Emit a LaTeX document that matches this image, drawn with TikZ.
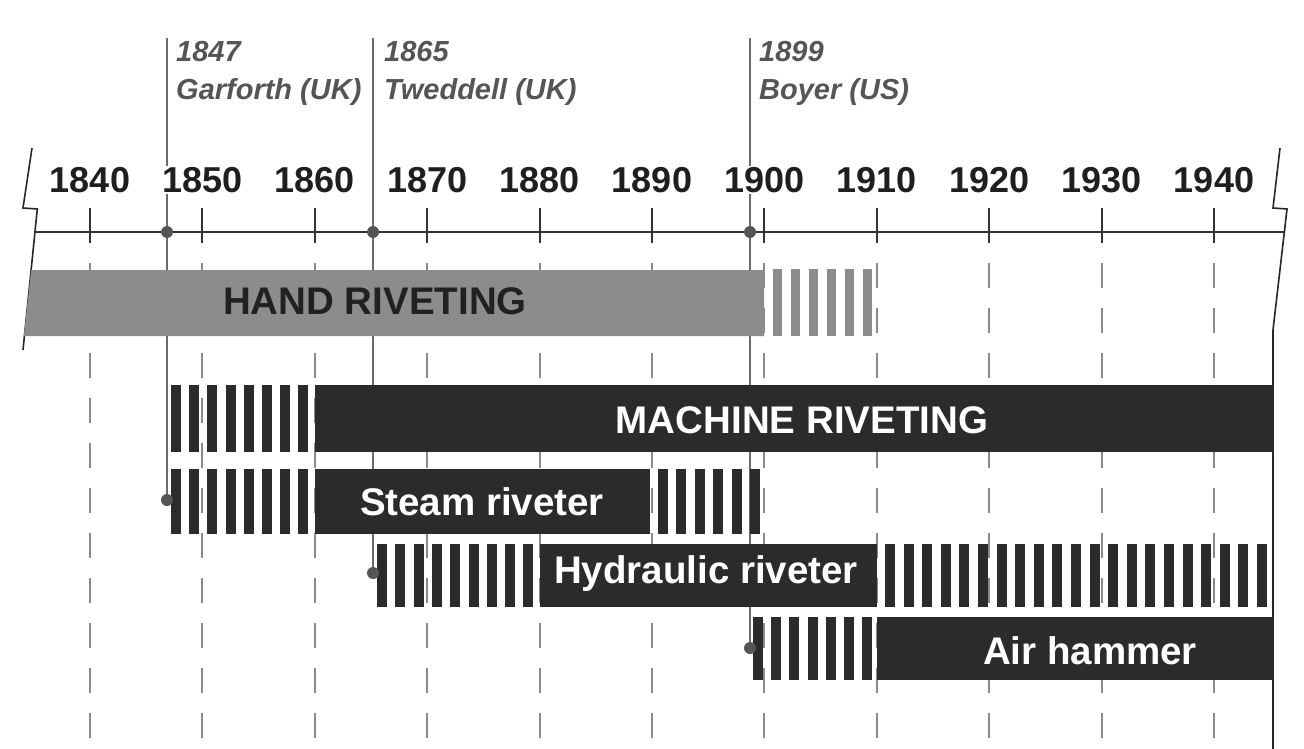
\documentclass[tikz,border=0pt]{standalone}
\usepackage{fontspec}
\setmainfont{Liberation Sans}
\definecolor{handgray}{HTML}{8C8C8C}
\definecolor{bardark}{HTML}{2B2B2B}
\definecolor{gridgray}{HTML}{8A8A8A}
\definecolor{linegray}{HTML}{6A6A6A}
\definecolor{dotgray}{HTML}{555555}
\definecolor{annotgray}{HTML}{555555}
\definecolor{axisdark}{HTML}{333333}
\begin{document}
\begin{tikzpicture}[x=1pt,y=-1pt,
  gridline/.style={draw=gridgray, line width=2pt, dash pattern=on 25pt off 20pt},
  markline/.style={draw=linegray, line width=1.6pt},
  breakline/.style={draw=black!85, line width=1.6pt, line join=miter},
  yearlbl/.style={font=\fontsize{36}{40}\selectfont\bfseries, text=black!88, fill=white, inner sep=1.5pt},
  annot/.style={font=\fontsize{29}{32}\selectfont\bfseries\itshape, text=annotgray, inner sep=0pt},
  barlbl/.style={font=\fontsize{38.5}{42}\selectfont\bfseries, text=white, inner sep=0pt},
  dot/.style={fill=dotgray}]
\useasboundingbox (0,0) rectangle (1304,749);
\fill[white] (0,0) rectangle (1304,749);

% dashed decade gridlines
\foreach \i in {0,...,10} {
  \draw[gridline] ({90+112.4*\i},263) -- ({90+112.4*\i},749);
}

% marker lines for 1847, 1865, 1899
\coordinate (m1847) at (167,232);
\coordinate (m1865) at (373,232);
\coordinate (m1899) at (750,232);
\coordinate (s1847) at (167,500);
\coordinate (h1865) at (373,573);
\coordinate (a1899) at (750,648);
\draw[markline] (167,38) -- (s1847);
\draw[markline] (373,38) -- (h1865);
\draw[markline] (750,38) -- (a1899);

% axis breaks
\coordinate (lb1) at (32,148);
\coordinate (lb2) at (23,208);
\coordinate (lb3) at (37.3,209);
\coordinate (lb4) at (23,350);
\coordinate (rb1) at (1280,148);
\coordinate (rb2) at (1273,208);
\coordinate (rb3) at (1287,209);
\coordinate (rb4) at (1273,330);
\coordinate (rb5) at (1273,749);
\draw[breakline] (lb1) -- (lb2) -- (lb3) -- (lb4);
\draw[breakline] (rb1) -- (rb2) -- (rb3) -- (rb4) -- (rb5);

% axis
\coordinate (axL) at (35,232);
\coordinate (axR) at (1284,232);
\draw[axisdark, line width=2pt] (axL) -- (axR);
\foreach \i in {0,...,10} {
  \draw[axisdark, line width=2pt] ({90+112.4*\i},208) -- ({90+112.4*\i},243);
}
\foreach \i/\yr in {0/1840,1/1850,2/1860,3/1870,4/1880,5/1890,6/1900,7/1910,8/1920,9/1930,10/1940} {
  \node[yearlbl] (y\yr) at ({90+112.4*\i},180) {\yr};
}

% annotations
\node[annot, anchor=base west] (t1847) at (176,62) {1847};
\node[annot, anchor=base west] (n1847) at (176,100) {Garforth (UK)};
\node[annot, anchor=base west] (t1865) at (384,62) {1865};
\node[annot, anchor=base west] (n1865) at (384,100) {Tweddell (UK)};
\node[annot, anchor=base west] (t1899) at (759,62) {1899};
\node[annot, anchor=base west] (n1899) at (759,100) {Boyer (US)};

% HAND RIVETING
\fill[handgray] (31.2,270) -- (764,270) -- (764,336) -- (23.8,336) -- cycle;
\foreach \k in {0,...,5} {
  \fill[handgray] ({773+18*\k},269) rectangle ({782+18*\k},336);
}
\node[barlbl, text=black!87] (hand) at (375,301) {HAND RIVETING};

% MACHINE RIVETING
\foreach \k in {0,...,7} {
  \fill[bardark] ({171+18.2*\k},385) rectangle ({181+18.2*\k},452);
}
\fill[bardark] (315,385) rectangle (1273,452);
\node[barlbl] (machine) at (802,420) {MACHINE RIVETING};

% Steam riveter
\foreach \k in {0,...,7} {
  \fill[bardark] ({171+18.2*\k},469) rectangle ({181+18.2*\k},534);
}
\fill[bardark] (315,469) rectangle (650,534);
\foreach \k in {0,...,5} {
  \fill[bardark] ({658+18.4*\k},469) rectangle ({668+18.4*\k},534);
}
\node[barlbl] (steam) at (482,502) {Steam riveter};

% Hydraulic riveter
\foreach \k in {0,...,8} {
  \fill[bardark] ({377+18.3*\k},544) rectangle ({387+18.3*\k},607);
}
\fill[bardark] (540,544) rectangle (877,607);
\foreach \k in {0,...,20} {
  \fill[bardark] ({885+18.6*\k},544) rectangle ({895+18.6*\k},607);
}
\node[barlbl] (hydraulic) at (706,574) {Hydraulic riveter};

% Air hammer
\foreach \k in {0,...,6} {
  \fill[bardark] ({753+18.2*\k},617) rectangle ({763+18.2*\k},680);
}
\fill[bardark] (877,617) rectangle (1273,680);
\node[barlbl] (air) at (1090,651) {Air hammer};

% dots
\foreach \c in {m1847,m1865,m1899,s1847,h1865,a1899} {
  \fill[dot] (\c) circle (6);
}
\end{tikzpicture}
\end{document}
